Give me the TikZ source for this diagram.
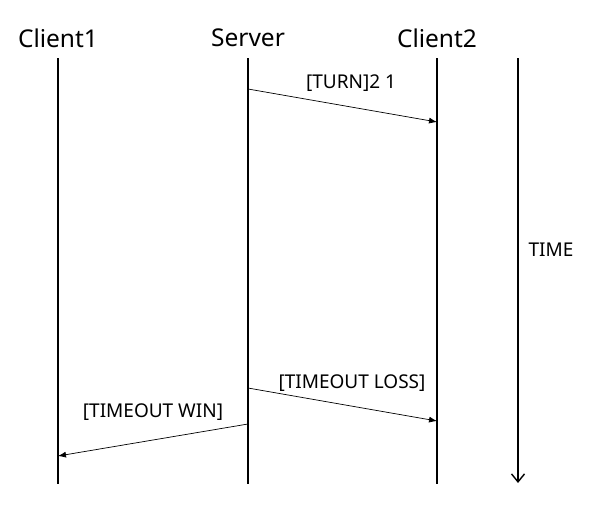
\documentclass[tikz,border=0pt]{standalone}
\usepackage{fontspec}
\setmainfont{Noto Sans}
\usetikzlibrary{arrows.meta}
\begin{document}
\begin{tikzpicture}[x=1pt,y=-1pt,
  head/.style={font=\fontsize{24.5}{28}\selectfont, inner sep=0pt},
  msglabel/.style={font=\fontsize{19}{22}\selectfont, inner sep=0pt},
  life/.style={line width=1.6pt},
  msg/.style={line width=0.7pt, -{Latex[length=8pt,width=6pt]}},
  timeline/.style={line width=1.6pt, -{Straight Barb[length=8pt,width=13pt,line width=1.4pt]}}]
\useasboundingbox (0,0) rectangle (593,511);
\node[head] (c1) at (58,38) {Client1};
\node[head] (sv) at (248,38) {Server};
\node[head] (c2) at (437,38) {Client2};
\coordinate (c1t) at (58,58); \coordinate (c1b) at (58,484);
\coordinate (svt) at (248,58); \coordinate (svb) at (248,484);
\coordinate (c2t) at (437,58); \coordinate (c2b) at (437,484);
\coordinate (tt) at (518,58); \coordinate (tb) at (518,483);
\draw[life] (c1t) -- (c1b);
\draw[life] (svt) -- (svb);
\draw[life] (c2t) -- (c2b);
\draw[timeline] (tt) -- (tb);
\node[msglabel] (time) at (551,250) {TIME};
\coordinate (m1s) at (248,89); \coordinate (m1e) at (437,122);
\coordinate (m2s) at (248,388); \coordinate (m2e) at (437,421);
\coordinate (m3s) at (248,424); \coordinate (m3e) at (58,456);
\draw[msg] (m1s) -- (m1e);
\draw[msg] (m2s) -- (m2e);
\draw[msg] (m3s) -- (m3e);
\node[msglabel] (l1) at (351,83) {[TURN]2 1};
\node[msglabel] (l2) at (352,383) {[TIMEOUT LOSS]};
\node[msglabel] (l3) at (153,412) {[TIMEOUT WIN]};
\end{tikzpicture}
\end{document}
